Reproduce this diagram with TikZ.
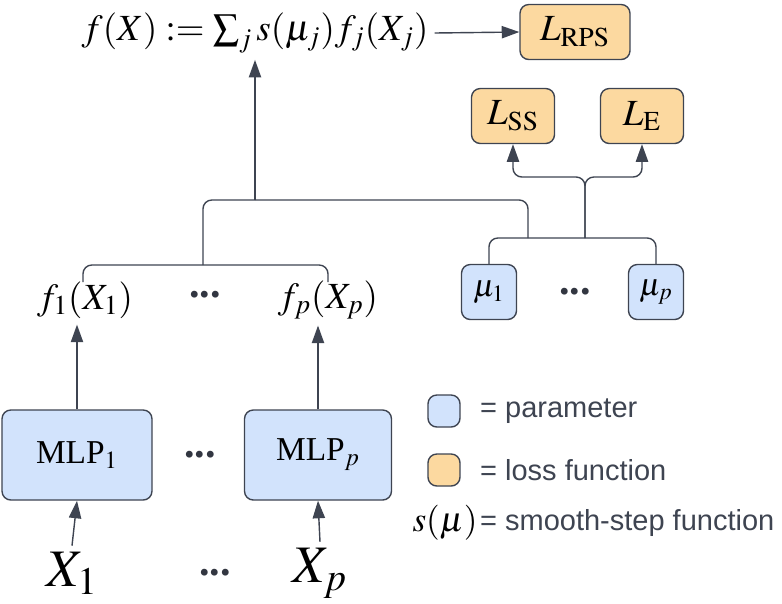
\documentclass[tikz,border=0pt]{standalone}
\usepackage{mathptmx}
\usepackage{fontspec}
\setmainfont{Liberation Serif}
\newfontfamily\legfont{Liberation Sans}
\usetikzlibrary{arrows.meta}
\definecolor{pblue}{HTML}{D2E3FC}
\definecolor{lorange}{HTML}{FCD9A0}
\definecolor{edgegray}{HTML}{3E4451}
\tikzset{
  param/.style={draw=edgegray, fill=pblue, rounded corners=5pt, thick, minimum width=1.1cm, minimum height=1.1cm, font=\fontsize{18}{20}\selectfont},
  loss/.style={draw=edgegray, fill=lorange, rounded corners=5pt, thick, minimum height=1.1cm, font=\fontsize{21}{24}\selectfont},
  conn/.style={edgegray, thick, rounded corners=5pt},
  arr/.style={conn, -{Triangle[width=7pt,length=10pt]}},
  dotstext/.style={font=\fontsize{24}{24}\selectfont\bfseries, text=edgegray!80!black},
  legtext/.style={anchor=west, font=\legfont\fontsize{16.5}{19}\selectfont, text=edgegray}
}
\begin{document}
\begin{tikzpicture}[x=0.02cm, y=-0.02cm]
\useasboundingbox (0,0) rectangle (782,603);
% top formula and losses
\node (sum) at (255,33) {\fontsize{21}{24}\selectfont $f(X) := \textstyle\sum_j s(\mu_j) f_j(X_j)$};
\node[loss, minimum width=2.2cm] (lrps) at (575,32) {$L_{\mathrm{RPS}}$};
\node[loss, minimum width=1.66cm] (lss) at (513,116) {$L_{\mathrm{SS}}$};
\node[loss, minimum width=1.66cm] (le) at (642,116) {$L_{\mathrm{E}}$};
% parameters
\node[param] (mu1) at (489,292) {$\mu_1$};
\node[param] (mup) at (656,292) {$\mu_p$};
\node[dotstext] (mudots) at (575,292) {...};
% component outputs
\node (f1) at (85,300) {\fontsize{21}{24}\selectfont $f_1(X_1)$};
\node (fp) at (328,300) {\fontsize{21}{24}\selectfont $f_p(X_p)$};
\node[dotstext] (fdots) at (205,295) {...};
% networks
\node[param, minimum width=3cm, minimum height=1.8cm, font=\fontsize{19}{22}\selectfont] (mlp1) at (77,455) {MLP$_1$};
\node[param, minimum width=2.94cm, minimum height=1.8cm, font=\fontsize{19}{22}\selectfont] (mlpp) at (318,455) {MLP$_p$};
\node[dotstext] (mdots) at (200,455) {...};
% inputs
\node (x1) at (72,573) {\fontsize{30}{33}\selectfont $X_1$};
\node (xp) at (320,573) {\fontsize{30}{33}\selectfont $X_p$};
\node[dotstext] (xdots) at (215,573) {...};
% legend
\node[param, minimum width=0.64cm, minimum height=0.64cm] (legp) at (444,411) {};
\node[loss, minimum width=0.64cm, minimum height=0.64cm] (legl) at (444,470) {};
\node (legs) at (445,523) {\fontsize{20}{22}\selectfont $s(\mu)$};
\node[legtext] at (474,411) {= parameter};
\node[legtext] at (474,470) {= loss function};
\node[legtext] at (474,523) {= smooth-step function};
% junctions
\coordinate (fbus) at (203,265);
\coordinate (mubus) at (585,238);
\coordinate (join) at (255,200);
% connectors
\draw[arr] (sum.east) -- (lrps.west);
\draw[arr] (x1.north) -- (mlp1.south);
\draw[arr] (xp.north) -- (mlpp.south);
\draw[arr] (mlp1.north) -- (mlp1.north |- f1.south);
\draw[arr] (mlpp.north) -- (mlpp.north |- fp.south);
\draw[conn] (83,282) -- (83,265) -- (328,265) -- (328,282);
\draw[conn] (mu1.north) -- (489,238) -- (656,238) -- (mup.north);
\draw[conn] (fbus) -- (203,200) -- (join);
\draw[conn] (528,238) -- (528,200) -- (join);
\draw[arr] (join) -- (sum.south -| join);
\draw[arr] (mubus) -- (585,177) -- (lss.south |- 0,177) -- (lss.south);
\draw[arr] (mubus) -- (585,177) -- (le.south |- 0,177) -- (le.south);
\end{tikzpicture}
\end{document}
